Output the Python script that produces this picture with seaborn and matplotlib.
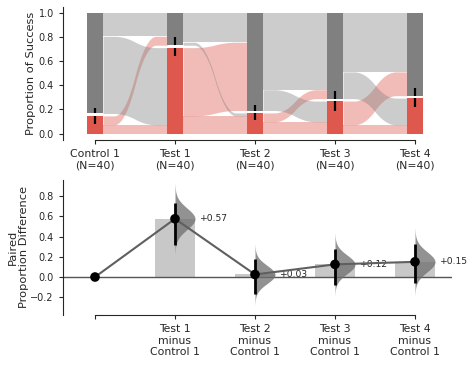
import numpy as np
import matplotlib
matplotlib.use("Agg")
import matplotlib.pyplot as plt
import seaborn as sns
import pandas as pd

# ---------------- data ----------------
groups = ["Control 1", "Test 1", "Test 2", "Test 3", "Test 4"]
n_obs = [40, 40, 40, 40, 40]
successes = [6, 29, 7, 11, 12]
# paired transitions between consecutive groups
ss = [3, 6, 4, 3]     # success -> success
sf = [3, 23, 3, 8]    # success -> failure
fs = [26, 1, 7, 9]    # failure -> success
ff = [8, 10, 26, 20]  # failure -> failure
prop_err_low = [0.08, 0.64, 0.11, 0.19, 0.22]
prop_err_high = [0.21, 0.80, 0.24, 0.35, 0.38]

diff_groups = ["", "Test 1\nminus\nControl 1", "Test 2\nminus\nControl 1",
               "Test 3\nminus\nControl 1", "Test 4\nminus\nControl 1"]
diffs = [0.0, 0.575, 0.025, 0.125, 0.15]
diff_ci_low = [0.32, -0.17, -0.08, -0.06]
diff_ci_high = [0.73, 0.18, 0.28, 0.33]
diff_text = ["+0.57", "+0.03", "+0.12", "+0.15"]

# ---------------- style ----------------
sns.set_style("ticks")
plt.rcParams["font.family"] = ["DejaVu Sans"]

RED = "#de584e"
DGRAY = "#808080"
GAP = 0.02
BAR_W = 0.2

fig = plt.figure(figsize=(4.74, 3.66), dpi=100)
ax1 = fig.add_axes([63 / 474, 1 - 140 / 366, (452 - 63) / 474, (140 - 7) / 366])
ax2 = fig.add_axes([63 / 474, 1 - 315 / 366, (452 - 63) / 474, (315 - 180) / 366])

xpos = np.arange(len(groups))


def smooth(a, b):
    ys = np.array(50 * [a] + 50 * [b], dtype=float)
    k = 0.05 * np.ones(20)
    ys = np.convolve(ys, k, mode="valid")
    ys = np.convolve(ys, k, mode="valid")
    return ys


# ---------------- upper: sankey ----------------
scale = [(1 - GAP) / n for n in n_obs]
succ_top = [s * sc for s, sc in zip(successes, scale)]

ax1.bar(xpos, succ_top, width=BAR_W, color=RED, lw=0, zorder=2)
ax1.bar(xpos, [1 - (t + GAP) for t in succ_top], bottom=[t + GAP for t in succ_top],
        width=BAR_W, color=DGRAY, lw=0, zorder=2)

for i in range(len(groups) - 1):
    sc = scale[i]
    lb = {"S": 0.0, "F": succ_top[i] + GAP}
    rb = {"S": 0.0, "F": succ_top[i + 1] + GAP}
    counts = {("S", "S"): ss[i], ("S", "F"): sf[i], ("F", "S"): fs[i], ("F", "F"): ff[i]}
    for L in ["S", "F"]:
        for R in ["S", "F"]:
            c = counts[(L, R)]
            if c == 0:
                continue
            h = c * sc
            yd = smooth(lb[L], rb[R])
            yu = smooth(lb[L] + h, rb[R] + h)
            lb[L] += h
            rb[R] += h
            xs = np.linspace(i + BAR_W / 2, i + 1 - BAR_W / 2, len(yd))
            ax1.fill_between(xs, yd, yu, color=RED if L == "S" else DGRAY,
                             alpha=0.4, lw=0, zorder=1)

# error bars on the bars (broken at the white gap)
for i in xpos:
    lo, hi, t = prop_err_low[i], prop_err_high[i], succ_top[i]
    ax1.plot([i, i], [lo, t], color="black", lw=1.6, solid_capstyle="butt", zorder=3)
    ax1.plot([i, i], [t + GAP, hi], color="black", lw=1.6, solid_capstyle="butt", zorder=3)

ax1.set_xlim(-0.4, 4.4625)
ax1.set_ylim(-0.052, 1.046)
ax1.set_xticks(xpos)
ax1.set_xticklabels([f"{g}\n(N={n})" for g, n in zip(groups, n_obs)], fontsize=7.8)
ax1.set_yticks(np.arange(0, 1.01, 0.2))
ax1.set_yticklabels([f"{v:.1f}" for v in np.arange(0, 1.01, 0.2)], fontsize=7)
ax1.set_ylabel("Proportion of Success", fontsize=8.2, labelpad=2)
sns.despine(ax=ax1)
ax1.spines["bottom"].set_bounds(0, 4)
ax1.tick_params(length=3, width=0.8)

# ---------------- lower: paired differences ----------------
df = pd.DataFrame({"group": groups, "diff": diffs})
sns.barplot(data=df, x="group", y="diff", order=groups, color="#c8c8c8",
            saturation=1, width=0.5, ax=ax2, zorder=1, lw=0)

ax2.axhline(0, color="#555555", lw=1.0, zorder=2)

for j in range(1, len(groups)):
    m = diffs[j]
    lo, hi = diff_ci_low[j - 1], diff_ci_high[j - 1]
    sd = (hi - lo) / 3.92
    yy = np.linspace(m - 3.3 * sd, m + 3.3 * sd, 300)
    ww = 0.25 * np.exp(-0.5 * ((yy - m) / sd) ** 2)
    ax2.fill_betweenx(yy, j, j + ww, color="#6e6e6e", alpha=0.75, lw=0, zorder=3)
    ax2.plot([j, j], [lo, hi], color="black", lw=2, solid_capstyle="butt", zorder=5)
    ax2.text(j + 0.31, m, diff_text[j - 1], va="center", ha="left", fontsize=6.6, zorder=2)

line_df = pd.DataFrame({"x": xpos, "y": diffs})
sns.lineplot(data=line_df, x="x", y="y", color="#5f5f5f", lw=1.5, ax=ax2, zorder=4)
sns.scatterplot(data=line_df, x="x", y="y", color="black", s=48, ax=ax2,
                zorder=6, edgecolor="none")

ax2.set_xlim(-0.4, 4.4625)
ax2.set_ylim(-0.375, 0.958)
ax2.set_xticks(xpos)
ax2.set_xticklabels(diff_groups, fontsize=7.8)
yt = np.arange(-0.2, 0.81, 0.2)
ax2.set_yticks(yt)
ax2.set_yticklabels([f"{v:.1f}".replace("-", "\u2212") if abs(v) > 1e-9 else "0.0" for v in yt],
                    fontsize=7)
ax2.set_xlabel("")
ax2.set_ylabel("Paired\nProportion Difference", fontsize=8.2, labelpad=1)
sns.despine(ax=ax2)
ax2.spines["bottom"].set_bounds(0, 4)
ax2.tick_params(length=3, width=0.8)

fig.savefig("out.png", dpi=100)
